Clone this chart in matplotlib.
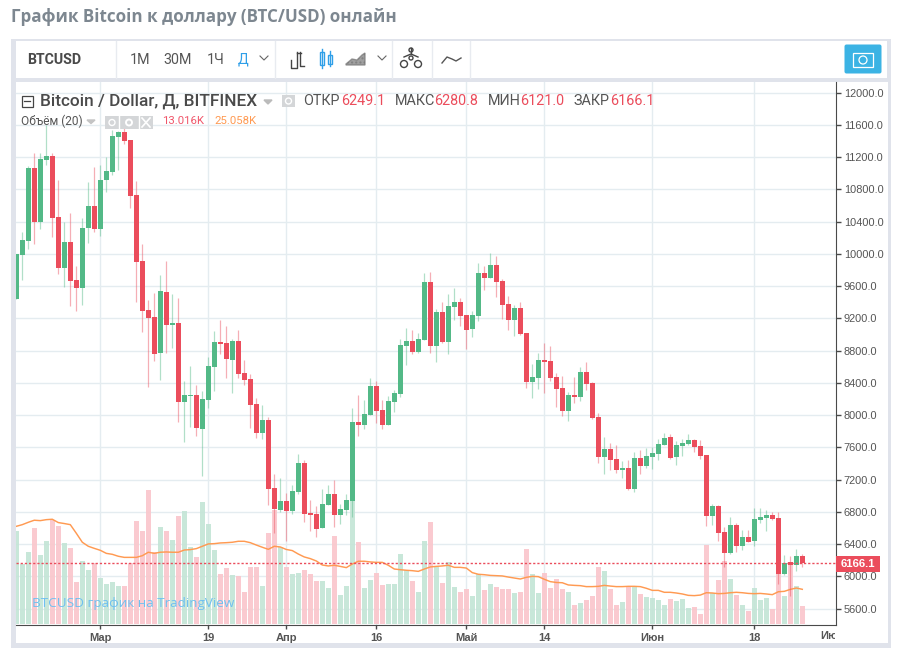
import numpy as np
import matplotlib
matplotlib.use("Agg")
import matplotlib.pyplot as plt
from matplotlib.patches import Rectangle, Circle, FancyBboxPatch
from matplotlib.transforms import Bbox

# daily candles, 15 Feb to 26 Jun
opens = [9441, 9987, 10160, 11066, 10396, 11165, 11215, 10458, 9825, 10148,
         9677, 9577, 10322, 10594, 10309, 10917, 11016, 11450, 11512, 11413,
         10731, 9912, 9305, 9218, 8771, 9528, 9119, 9144, 8164, 8238,
         8250, 7829, 8188, 8598, 8908, 8895, 8685, 8920, 8523, 8449,
         8139, 7779, 7940, 7097, 6824, 6936, 6812, 7048, 7407, 6787,
         6775, 6601, 6886, 7023, 6762, 6825, 6936, 7916, 7879, 8003,
         8362, 8065, 7879, 8164, 8263, 8858, 8920, 8784, 8933, 9652,
         8858, 9280, 8908, 9342, 9404, 9243, 9069, 9230, 9764, 9702,
         9863, 9665, 9379, 9181, 9330, 9020, 8412, 8462, 8685, 8672,
         8474, 8338, 8052, 8251, 8226, 8536, 8400, 7978, 7482, 7581,
         7457, 7321, 7346, 7085, 7470, 7370, 7482, 7519, 7631, 7730,
         7482, 7618, 7643, 7693, 7618, 7507, 6750, 6874, 6552, 6291,
         6639, 6378, 6490, 6440, 6700, 6725, 6763, 6725, 6031, 6176,
         6143, 6249.1]
closes = [9999, 10173, 11066, 10396, 11177, 11215, 10446, 9825, 10148, 9664,
          9577, 10322, 10594, 10309, 10917, 11029, 11463, 11512, 11401, 10718,
          9900, 9292, 9205, 8759, 9540, 9119, 9144, 8164, 8250, 8250,
          7841, 8201, 8610, 8908, 8883, 8697, 8920, 8511, 8437, 8126,
          7779, 7940, 7085, 6836, 6935, 6812, 7060, 7407, 6775, 6762,
          6589, 6899, 7023, 6762, 6837, 6948, 7916, 7879, 8015, 8362,
          8052, 7879, 8176, 8275, 8871, 8920, 8784, 8945, 9652, 8858,
          9280, 8908, 9354, 9404, 9230, 9057, 9243, 9764, 9702, 9863,
          9652, 9367, 9181, 9330, 9007, 8412, 8474, 8685, 8660, 8462,
          8325, 8052, 8251, 8226, 8536, 8387, 7966, 7482, 7581, 7445,
          7321, 7346, 7085, 7470, 7370, 7494, 7532, 7643, 7718, 7470,
          7631, 7656, 7693, 7606, 7494, 6750, 6874, 6539, 6291, 6639,
          6378, 6490, 6428, 6713, 6738, 6763, 6713, 6031, 6163, 6143,
          6254, 6166.1]
highs = [9999, 10272, 11090, 11252, 11252, 11599, 11252, 10917, 10396, 10508,
         9850, 10446, 10892, 11082, 11103, 11202, 11537, 11530, 11699, 11413,
         10904, 10123, 9429, 9515, 9739, 9912, 9503, 9453, 8424, 8610,
         8374, 8300, 8722, 9044, 9181, 9106, 8950, 9057, 8685, 8511,
         8213, 8126, 7978, 7270, 7221, 7031, 7134, 7523, 7444, 6948,
         6874, 7085, 7134, 7197, 6899, 7023, 8089, 8251, 8189, 8461,
         8424, 8189, 8238, 8313, 8945, 9082, 9057, 9020, 9760, 9776,
         9317, 9404, 9503, 9578, 9454, 9243, 9292, 9892, 9851, 10008,
         9975, 9689, 9478, 9367, 9404, 9020, 8635, 8772, 8896, 8858,
         8520, 8487, 8288, 8474, 8602, 8660, 8412, 8028, 7730, 7656,
         7631, 7432, 7445, 7544, 7569, 7594, 7606, 7705, 7780, 7767,
         7680, 7705, 7767, 7705, 7693, 7507, 6899, 6880, 6614, 6738,
         6663, 6577, 6577, 6849, 6849, 6825, 6800, 6800, 6266, 6254,
         6341, 6280.8]
lows = [9441, 9677, 10061, 10123, 10309, 11103, 10206, 9751, 9590, 9354,
        9292, 9363, 10131, 10272, 10222, 10768, 10979, 11041, 11363, 10570,
        9404, 9032, 8350, 8668, 8436, 8771, 8833, 7916, 7668, 7858,
        7742, 7245, 8089, 8300, 8759, 8461, 8275, 8461, 8375, 7841,
        7717, 7705, 6886, 6543, 6799, 6435, 6775, 7023, 6671, 6564,
        6490, 6601, 6886, 6614, 6651, 6762, 6742, 7742, 7829, 8003,
        7903, 7829, 7879, 8040, 8226, 8623, 8759, 8771, 8933, 8767,
        8660, 8896, 8759, 9181, 9106, 8821, 8970, 9168, 9553, 9702,
        9466, 9193, 9057, 8982, 8995, 8337, 8213, 8325, 8275, 8424,
        8102, 7990, 7928, 8148, 8172, 8313, 7953, 7408, 7271, 7321,
        7283, 7221, 7073, 7048, 7271, 7346, 7333, 7445, 7631, 7457,
        7383, 7494, 7631, 7544, 7457, 6626, 6639, 6440, 6122, 6280,
        6304, 6329, 6428, 6378, 6663, 6564, 6700, 5907, 6019, 5758,
        6068, 6121]

# volume in thousands
volumes = [67.2, 43.3, 52, 69.3, 49.8, 59.9, 75.1, 70.8, 58.5, 54.9,
           30.3, 45.5, 39, 44, 33.2, 28.9, 30.3, 27.4, 27.4, 44,
           74.4, 67.2, 96.8, 51.8, 70, 67.2, 60.7, 78, 81.6, 55.6,
           48.4, 88.1, 72.2, 53.4, 36.1, 40.4, 35.4, 34.7, 23.1, 41.2,
           41.2, 27.4, 65.7, 82, 55.8, 41.3, 36.1, 36.8, 39, 36.1,
           31, 31, 26, 63.5, 20.9, 27.4, 88.8, 59.2, 26, 31.8,
           36.8, 28.2, 28.9, 28.9, 50.5, 39, 31, 23.1, 59.9, 73.7,
           41.4, 29.6, 44.8, 26.7, 23.1, 25.3, 20.2, 36.1, 24.6, 28.9,
           26.7, 25.3, 25.3, 22.4, 23.1, 54.2, 36.1, 22.4, 36.8, 26,
           32.5, 25.3, 23.1, 13.7, 15.2, 17.3, 20.2, 41.2, 38.3, 25.3,
           13.7, 15.9, 27.4, 27.4, 21.7, 19.5, 18.8, 17.3, 13.7, 18.1,
           16.6, 18.1, 11.6, 12.3, 7.2, 57, 22.4, 31.8, 45.3, 32.5,
           20.9, 13.7, 9.4, 26, 17.3, 18.8, 11.1, 36.6, 20.2, 44.8,
           27.4, 13.016]
vol_ma = [70.5, 71.7, 73.4, 74.9, 74.6, 75.3, 75.6, 73.2, 72.5, 71.7,
          65.5, 59, 56.1, 54.6, 53.2, 51, 50.3, 48.9, 48.1, 48.1,
          48.1, 49.3, 51.8, 51, 51.8, 52, 51.8, 51.8, 53.4, 53.7,
          54.4, 56.1, 57.8, 58, 58.5, 58.7, 59, 59.7, 59.7, 58.7,
          57, 55.4, 53.9, 56.1, 55.6, 53.8, 53, 50.5, 48.4, 47.2,
          45.5, 42.6, 41.9, 42.4, 41.6, 40.7, 43.3, 45.3, 45.3, 44.8,
          44.5, 44.5, 42.4, 39.7, 39.2, 38.8, 38.5, 38, 39.7, 41.2,
          41.6, 41.9, 42.4, 40.9, 40.9, 40.4, 37.1, 35.9, 35.6, 35.1,
          34.9, 34.7, 33.9, 33.2, 32.5, 33.7, 34.4, 34.2, 32.3, 30.6,
          30, 29.8, 28.2, 27.9, 27.7, 27, 27, 27.2, 27.9, 27.4,
          27, 27, 27.2, 27.2, 27, 25.8, 24.3, 24.3, 22.9, 22.9,
          22.4, 21.7, 20.7, 20.5, 20.9, 22.6, 22.4, 21.9, 22.1, 22.6,
          22.9, 22.6, 22.1, 21.9, 22.1, 21.7, 21.2, 23.3, 23.6, 25,
          26, 25.058]

price_ticks = [5600, 6000, 6400, 6800, 7200, 7600, 8000, 8400, 8800, 9200,
               9600, 10000, 10400, 10800, 11200, 11600, 12000]
date_ticks = [14, 32, 45, 60, 75, 88, 106, 123]
date_labels = ["Мар", "19", "Апр", "16", "Май", "14", "Июн", "18"]
last_price = 6166.1

GREEN = "#53b987"
RED = "#eb4d5c"
GRID = "#e4ecf0"
TEXT = "#555555"

W, H = 899, 659
fig = plt.figure(figsize=(W / 100, H / 100), dpi=100, facecolor="white")


def px_rect(left, top, right, bottom):
    return [left / W, 1 - bottom / H, (right - left) / W, (bottom - top) / H]


# page furniture lives on an overlay in pixel coordinates
page = fig.add_axes([0, 0, 1, 1], zorder=0)
page.set_xlim(0, W)
page.set_ylim(H, 0)
page.axis("off")
page.add_patch(Rectangle((11, 39), 880, 609, fc="#e0e3eb", ec="none"))
page.add_patch(Rectangle((16, 41), 871, 36.5, fc="white", ec="none"))
page.add_patch(Rectangle((16, 82), 872, 561, fc="white", ec="none"))
for sx in [116, 275, 392, 432, 470]:
    page.plot([sx, sx], [41, 77.5], color="#e8ebf0", lw=1)

# grid, volume and candles each get their own axes so they stack correctly
rect = px_rect(16, 82, 835.5, 625.3)
xlim = (-0.05, 136.533)
ax_grid = fig.add_axes(rect, zorder=1)
ax_vol = fig.add_axes(rect, zorder=2)
ax = fig.add_axes(rect, zorder=3)
x = np.arange(len(closes))
up = np.array(closes) >= np.array(opens)

ax_grid.set_xlim(xlim)
ax_grid.set_ylim(5394, 12133)
ax_grid.set_facecolor("white")
ax_grid.set_xticks(date_ticks)
ax_grid.set_yticks(price_ticks)
ax_grid.grid(True, color=GRID, lw=1)
ax_grid.tick_params(length=0, labelbottom=False, labelleft=False)
for s in ax_grid.spines.values():
    s.set_visible(False)

ax_vol.set_xlim(xlim)
ax_vol.set_ylim(-0.9, 391)
ax_vol.patch.set_alpha(0)
ax_vol.axis("off")
ax_vol.bar(x, volumes, width=0.86, color=["#c4e5d6" if u else "#fac6cc" for u in up], alpha=0.92)
ax_vol.plot(x, vol_ma, color="#ff9a52", lw=1.05)

ax.set_xlim(xlim)
ax.set_ylim(5394, 12133)
ax.patch.set_alpha(0)
bar_colors = [GREEN if u else RED for u in up]
ax.vlines(x, lows, highs, colors=bar_colors, lw=0.9, alpha=0.45)
ax.bar(x, np.array(closes) - np.array(opens), bottom=opens, width=0.86, color=bar_colors)
ax.axhline(last_price, color=RED, lw=1, ls=(0, (1.6, 1.4)))

ax.spines["top"].set_visible(False)
ax.spines["left"].set_visible(False)
ax.spines["right"].set_color("#4a4a4a")
ax.spines["bottom"].set_color("#4a4a4a")
ax.yaxis.tick_right()
ax.set_yticks(price_ticks)
ax.set_yticklabels([f"{p:.1f}" for p in price_ticks], family="Liberation Sans", fontsize=7.9, color=TEXT)
ax.set_xticks(date_ticks)
ax.set_xticklabels(date_labels, family="Liberation Sans", fontsize=8, color=TEXT, fontweight="bold")
ax.tick_params(axis="y", length=3.5, width=1, color="#4a4a4a", pad=2.5)
ax.tick_params(axis="x", length=3, width=1, color="#4a4a4a", pad=2.5)

over = fig.add_axes([0, 0, 1, 1], zorder=4)
over.set_xlim(0, W)
over.set_ylim(H, 0)
over.axis("off")
over.patch.set_alpha(0)

# clipped month label at the right end of the time axis
t = over.text(832.7, 636, "Июл", family="Liberation Sans", fontsize=8, fontweight="bold",
              color=TEXT, ha="center", va="center")
t.set_clip_box(Bbox([[0, 0], [835, H]]))
t.set_clip_on(True)

# last price tag
over.add_patch(Rectangle((836, 556), 44, 15.5, fc=RED, ec="none"))
over.text(858, 564, "6166.1", family="Liberation Sans", fontsize=8.2, fontweight="bold",
          color="white", ha="center", va="center")

# title and toolbar
over.text(11, 17, "График Bitcoin к доллару (BTC/USD) онлайн", family="Open Sans", fontsize=12.25,
          fontweight="bold", color="#7d8790", ha="left", va="center")
over.text(27, 59.5, "BTCUSD", family="Roboto", fontsize=10.2, fontweight="bold", color="#4a4a4a", va="center")
for label, lx, c in [("1М", 130, TEXT), ("30М", 163, TEXT), ("1Ч", 207, TEXT), ("Д", 238, "#2f9fe8")]:
    over.text(lx, 60, label, family="Roboto", fontsize=10.3, color=c, va="center")


def chevron(cx, cy, color="#666666"):
    over.plot([cx - 4, cx, cx + 4], [cy - 2, cy + 2, cy - 2], color=color, lw=0.8)


chevron(264, 58)
chevron(382, 58)

# bar style icon
over.plot([297, 297, 291, 291], [52, 68, 68, 60], color="#444444", lw=1)
over.plot([297, 301], [53, 53], color="#444444", lw=1)
over.plot([300, 300, 304], [52, 66, 66], color="#444444", lw=1)
# candle style icon
over.add_patch(Rectangle((320, 52), 3.5, 13, fc="white", ec="#2f9fe8", lw=1))
over.plot([321.7, 321.7], [49, 68], color="#2f9fe8", lw=1)
over.add_patch(Rectangle((328, 55), 3.5, 9, fc="white", ec="#2f9fe8", lw=1))
over.plot([329.7, 329.7], [51, 66], color="#2f9fe8", lw=1)
# area style icon
over.fill([346, 352, 357, 362, 365, 365, 346], [64, 59, 60, 55, 53, 65, 65], color="#777777", hatch="....", alpha=0.7)
# scales icon
over.plot([404, 411, 418], [57, 54, 57], color="#444444", lw=1)
over.plot([411, 411], [48, 54], color="#444444", lw=1)
for cx, cy, r in [(411, 50, 2), (411, 58, 2), (404, 64, 3.5), (418, 64, 3.5)]:
    over.add_patch(Circle((cx, cy), r, fc="white", ec="#444444", lw=1))
# indicator icon
over.plot([442, 447, 452, 456, 461], [63, 57, 59, 61, 58], color="#555555", lw=1)

# camera button
over.add_patch(FancyBboxPatch((845, 45), 36, 28, boxstyle="round,pad=0.5,rounding_size=2", fc="#3bb3e4", ec="none"))
over.add_patch(Rectangle((853, 53), 20, 13.5, fc="none", ec="white", lw=0.9))
over.add_patch(Circle((863, 60), 4, fc="none", ec="white", lw=0.9))

# legend lines
over.add_patch(Rectangle((21.5, 95.5), 11, 11, fc="white", ec="#444444", lw=0.9))
over.plot([24, 30], [101, 101], color="#444444", lw=0.9)
over.text(40.5, 101, "Bitcoin / Dollar, Д, BITFINEX", family="Roboto", fontsize=12.4, color="#4a4a4a",
          va="center", fontweight="medium")
over.fill([264, 272, 268], [100, 100, 104], color="#bbbbbb")
over.add_patch(Rectangle((282, 95), 13, 12, fc="#d4d6d8", ec="none"))
over.add_patch(Circle((288.5, 101), 3, fc="none", ec="white", lw=1))
for label, lx, c in [("ОТКР", 303, TEXT), ("6249.1", 341, RED), ("МАКС", 395, TEXT), ("6280.8", 434, RED),
                     ("МИН", 488, TEXT), ("6121.0", 520, RED), ("ЗАКР", 574, TEXT), ("6166.1", 610, RED)]:
    over.text(lx, 101, label, family="Roboto", fontsize=10.4, color=c, va="center")
over.text(21, 121, "Объём (20)", family="Roboto", fontsize=8.6, color=TEXT, va="center")
over.fill([87, 95, 91], [120, 120, 123.5], color="#c4c4c4")
over.add_patch(Rectangle((105, 116), 48, 13, fc="#d4d6d8", ec="none"))
over.plot([119, 119], [116, 129], color="white", lw=1)
over.plot([138.5, 138.5], [116, 129], color="white", lw=1)
over.add_patch(Circle((112, 122.5), 3, fc="none", ec="white", lw=1))
over.add_patch(Circle((129, 122.5), 3, fc="none", ec="white", lw=1.4))
over.plot([142, 150], [118, 127], color="white", lw=1.2)
over.plot([142, 150], [127, 118], color="white", lw=1.2)
over.text(162, 121, "13.016K", family="Roboto", fontsize=8.2, color="#f0566a", va="center")
over.text(214, 121, "25.058K", family="Roboto", fontsize=8.2, color="#ff9a52", va="center")

# watermark
over.text(32, 603, "BTCUSD график на TradingView", family="Open Sans", fontsize=9.7, color="#6fc0f0", va="center")

fig.savefig("out.png", dpi=100)
